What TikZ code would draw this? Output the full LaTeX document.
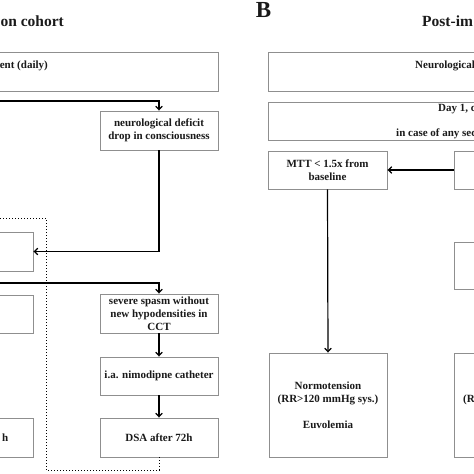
\documentclass[tikz,border=0pt]{standalone}
\usepackage{fontspec}
\setmainfont{Liberation Serif}
\usetikzlibrary{arrows.meta}
\definecolor{boxgray}{HTML}{8F8F8F}
\definecolor{txt}{HTML}{1A1A1A}
\begin{document}
\begin{tikzpicture}[x=1pt,y=-1pt,
  box/.style={draw=boxgray,line width=0.9pt,rectangle,inner sep=0pt,align=center,
    font=\fontsize{11}{13}\selectfont\bfseries,text=txt},
  lbl/.style={inner sep=0pt,font=\fontsize{11}{13}\selectfont\bfseries,text=txt},
  ttl/.style={inner sep=0pt,font=\fontsize{15.5}{18}\selectfont\bfseries,text=txt},
  arr/.style={draw=black,line width=1.2pt,-{Straight Barb[length=3.5pt,width=6.5pt,line width=1.2pt]}},
  dots/.style={draw=black,line width=1pt,dotted}]
\useasboundingbox (0,0) rectangle (474,474);
\fill[white] (0,0) rectangle (474,474);
\clip (0,0) rectangle (474,474);

% ---------- Left panel ----------
\node[ttl,anchor=east] (ttlA) at (64,21) {on cohort};

\node[box,minimum width=488pt,minimum height=39pt] (a1) at (-26,71.5) {};
\node[lbl,anchor=east] (a1t) at (48,66) {ent (daily)};

\node[box,minimum width=118pt,minimum height=39pt] (a2) at (159,130.5) {neurological deficit\\drop in consciousness};

\node[box,minimum width=118pt,minimum height=39pt] (lb1) at (-26,251.5) {};
\node[box,minimum width=118pt,minimum height=38pt] (lb2) at (-26,314) {};
\node[box,minimum width=118pt,minimum height=39pt] (lb3) at (-26,437.5) {};
\node[lbl,anchor=east] (lb3t) at (8.5,438) {h};

\node[box,minimum width=118pt,minimum height=39pt] (sp) at (159,313.5) {severe spasm without\\new hypodensities in\\CCT};
\node[box,minimum width=118pt,minimum height=38pt] (ia) at (159,376) {i.a. nimodipne catheter};
\node[box,minimum width=118pt,minimum height=39pt] (dsa) at (159,437.5) {DSA after 72h};

\coordinate (s1) at (-5,101);
\coordinate (s2) at (-5,283);
\draw[arr] (s1) -| (a2.north);
\draw[arr] (a2.south) |- (lb1.east);
\draw[arr] (s2) -| (sp.north);
\draw[arr] (sp.south) -- (ia.north);
\draw[arr] (ia.south) -- (dsa.north);

\coordinate (d1) at (159,470);
\coordinate (d2) at (46,470);
\coordinate (d3) at (46,218);
\coordinate (d4) at (-5,218);
\draw[dots] (dsa.south) -- (d1) -- (d2) -- (d3) -- (d4);

% ---------- Right panel ----------
\node[inner sep=0pt,font=\fontsize{23}{26}\selectfont\bfseries,text=txt] (B) at (263.5,10) {B};
\node[ttl,anchor=west] (ttlB) at (422,21) {Post-im};

\node[box,minimum width=486pt,minimum height=39pt] (b1) at (511,71.5) {};
\node[lbl,anchor=west] (b1t) at (415,66) {Neurological};

\node[box,minimum width=486pt,minimum height=38pt] (b2) at (511,121) {};
\node[lbl,anchor=west] (b2t) at (438,109) {Day 1, c};
\node[lbl,anchor=west] (b2u) at (396,134) {in case of any sec};

\node[box,minimum width=119pt,minimum height=38pt] (mtt) at (327.5,170) {MTT < 1.5x from\\baseline};
\node[box,minimum width=119pt,minimum height=38pt] (rb1) at (513.5,170) {};
\node[box,minimum width=119pt,minimum height=47pt] (rb2) at (513.5,265.5) {};

\node[box,minimum width=118pt,minimum height=104pt] (nt) at (328,405) {Normotension\\(RR>120 mmHg sys.)\\[13pt]Euvolemia};
\node[box,minimum width=119pt,minimum height=104pt] (rb3) at (513.5,405) {};
\node[lbl,anchor=west] (rb3t) at (463,400) {(R};

\draw[arr] (rb1.west) -- (mtt.east);
\draw[arr] (mtt.south) -- (nt.north);
\end{tikzpicture}
\end{document}
